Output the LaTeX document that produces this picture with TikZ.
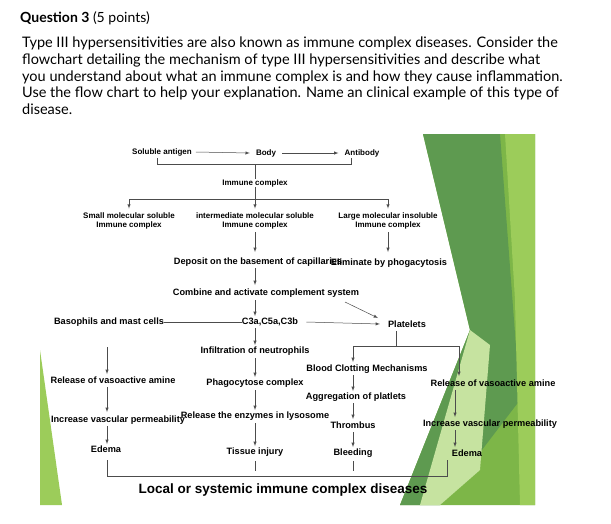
\documentclass[tikz,border=0pt]{standalone}
\usepackage{fontspec}
\setmainfont{Liberation Sans}
\newfontfamily\lato{Lato}
\definecolor{gdark}{HTML}{5E9A50}
\definecolor{gmid}{HTML}{7DB648}
\definecolor{glight}{HTML}{9CCC5A}
\definecolor{gpale}{HTML}{C6E3A0}
\begin{document}
\begin{tikzpicture}[x=1pt,y=-1pt,
  t/.style={font=\bfseries\fontsize{8}{9}\selectfont,inner sep=0pt,align=center},
  tb/.style={font=\bfseries\fontsize{9.2}{10}\selectfont,inner sep=0pt,align=center},
  ar/.style={draw=black!70,line width=0.5pt,-latex},
  ln/.style={draw=black!70,line width=0.5pt}]
\useasboundingbox (0,0) rectangle (611,523);
\fill[white] (0,0) rectangle (611,523);
% green decorations
\fill[gmid] (423,134) -- (535,134) -- (535,505) -- (400,505) -- (470,330) -- cycle;
\fill[gdark] (423,134) -- (500,134) -- (520,400) -- (440,505) -- (400,505) -- (470,330) -- cycle;
\fill[glight] (505,134) -- (535,134) -- (535,505) -- (520,505) -- (515,300) -- cycle;
\fill[gpale] (470,330) -- (490,345) -- (480,470) -- (440,505) -- (420,505) -- cycle;
\fill[glight] (40,350) -- (62,505) -- (40,505) -- cycle;
% header
\node[anchor=west,inner sep=0pt,font=\lato\fontsize{14}{16}\selectfont] (q) at (20,18) {\textbf{Question 3} (5 points)};
\node[anchor=north west,inner sep=0pt,align=left,font=\lato\fontsize{14.5}{16.6}\selectfont] (p) at (22,37) {Type III hypersensitivities are also known as immune complex diseases. Consider the\\flowchart detailing the mechanism of type III hypersensitivities and describe what\\you understand about what an immune complex is and how they cause inflammation.\\Use the flow chart to help your explanation. Name an clinical example of this type of\\disease.};
% diagram nodes
\node[t] (sa) at (162,152) {Soluble antigen};
\node[t] (bo) at (266,153) {Body};
\node[t] (ab) at (362,153) {Antibody};
\node[t] (ic) at (255,183) {Immune complex};
\node[t] (sm) at (129,221) {Small molecular soluble\\Immune complex};
\node[t] (im) at (255,221) {intermediate molecular soluble\\Immune complex};
\node[t] (lm) at (388,221) {Large molecular insoluble\\Immune complex};
\node[tb] (de) at (258,262) {Deposit on the basement of capillaries};
\node[tb] (el) at (389,263) {Eliminate by phogacytosis};
\node[tb] (co) at (266,293) {Combine and activate complement system};
\node[tb] (c3) at (270,322) {C3a,C5a,C3b};
\node[tb] (bm) at (109,322) {Basophils and mast cells};
\node[tb] (pl) at (407,324) {Platelets};
\node[tb] (in) at (255,351) {Infiltration of neutrophils};
\node[tb] (ra1) at (113,380) {Release of vasoactive amine};
\node[tb] (iv1) at (118,420) {Increase vascular permeability};
\node[tb] (ed1) at (106,449) {Edema};
\node[tb] (ph) at (255,383) {Phagocytose complex};
\node[tb] (re) at (255,416) {Release the enzymes in lysosome};
\node[tb] (ti) at (255,452) {Tissue injury};
\node[tb] (bc) at (367,369) {Blood Clotting Mechanisms};
\node[tb] (ag) at (356,397) {Aggregation of platlets};
\node[tb] (th) at (353,425) {Thrombus};
\node[tb] (bl) at (353,453) {Bleeding};
\node[tb] (ra2) at (493,383) {Release of vasoactive amine};
\node[tb] (iv2) at (490,424) {Increase vascular permeability};
\node[tb] (ed2) at (467,453) {Edema};
\node[inner sep=0pt,font=\bfseries\fontsize{13.5}{15}\selectfont] (lo) at (283,490) {Local or systemic immune complex diseases};
% connectors
\draw[ar] (sa.east)+(4,0) -- ([xshift=-6pt]bo.west);
\draw[ar] ([xshift=6pt]bo.east) -- ([xshift=-6pt]ab.west);
\draw[ln] (157,158) |- (351,164) -- (351,158);
\draw[ln] (255,164) -- (ic.north);
\draw[ln] (ic.south) -- (255,199);
\draw[ln] (129,199) -- (388,199);
\draw[ar] (129,199) -- ([yshift=4pt]sm.north);
\draw[ar] (255,199) -- ([yshift=4pt]im.north);
\draw[ar] (388,199) -- ([yshift=4pt]lm.north);
\draw[ar] (255,232) -- (255,252);
\draw[ar] (388,232) -- (388,252);
\draw[ar] (255,268) -- (255,285);
\draw[ar] (255,300) -- (255,316);
\draw[ln] (bm.east) -- (c3.west);
\draw[ar] ([xshift=8pt]c3.east) -- ([xshift=-8pt]pl.west);
\draw[ar] (345,302) -- (378,318);
\draw[ar] (255,328) -- (255,345);
\draw[ar] (107,347) -- (107,374);
\draw[ar] (107,387) -- (107,412);
\draw[ar] (107,426) -- (107,444);
\draw[ar] (255,358) -- (255,377);
\draw[ar] (255,390) -- (255,410);
\draw[ar] (255,423) -- (255,446);
\draw[ln] (396,331) -- (396,346);
\draw[ln] (353,346) -- (459,346);
\draw[ar] (353,346) -- (353,362);
\draw[ar] (459,346) -- (459,376);
\draw[ar] (353,375) -- (353,391);
\draw[ar] (353,403) -- (353,419);
\draw[ar] (353,432) -- (353,447);
\draw[ar] (455,390) -- (455,417);
\draw[ar] (455,430) -- (455,447);
\draw[ln] (107,460) |- (447,476) -- (447,460);
\draw[ln] (255,461) -- (255,471);
\draw[ln] (353,461) -- (353,471);
\end{tikzpicture}
\end{document}
